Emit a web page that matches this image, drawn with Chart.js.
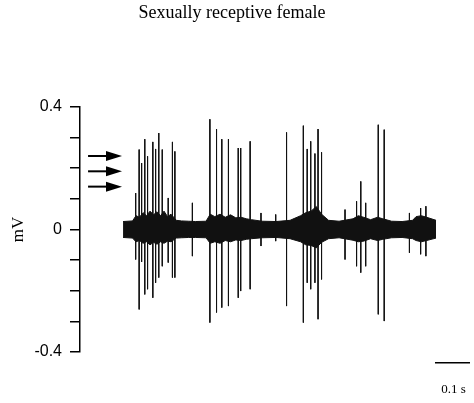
<!DOCTYPE html>
<html>
<head>
<meta charset="utf-8">
<script src="https://cdn.jsdelivr.net/npm/chart.js@4.4.0/dist/chart.umd.min.js"></script>
<style>
  html, body { margin: 0; padding: 0; background: #fff; }
  #wrap { width: 474px; height: 403px; }
</style>
</head>
<body>
<div id="wrap"><canvas id="trace"></canvas></div>
<script>
// Spike times (s) with their positive and negative peaks (mV)
const spikeT = [0.159, 0.169, 0.176, 0.185, 0.193, 0.208, 0.216, 0.225, 0.235, 0.252, 0.264, 0.271,
  0.321, 0.371, 0.390, 0.405, 0.424, 0.452, 0.459, 0.486, 0.517, 0.559,
  0.590, 0.638, 0.649, 0.659, 0.671, 0.680, 0.690, 0.757, 0.790, 0.802, 0.816, 0.852, 0.869,
  0.941, 0.973, 0.988];
const spikeTop = [0.119, 0.261, 0.217, 0.295, 0.239, 0.286, 0.263, 0.315, 0.261, 0.103, 0.286, 0.255,
  0.087, 0.360, 0.328, 0.295, 0.295, 0.266, 0.266, 0.288, 0.054, 0.049,
  0.317, 0.339, 0.263, 0.288, 0.248, 0.328, 0.252, 0.065, 0.092, 0.157, 0.087, 0.342, 0.326,
  0.054, 0.070, 0.076];
const spikeBot = [-0.098, -0.261, -0.106, -0.212, -0.195, -0.223, -0.174, -0.157, -0.120, -0.108, -0.157, -0.157,
  -0.087, -0.304, -0.271, -0.255, -0.250, -0.223, -0.201, -0.195, -0.054, -0.038,
  -0.250, -0.304, -0.174, -0.195, -0.174, -0.293, -0.163, -0.098, -0.120, -0.141, -0.120, -0.277, -0.299,
  -0.076, -0.081, -0.087];

// Background noise envelope (mV)
const noiseT = [0.123, 0.150, 0.160, 0.170, 0.180, 0.190, 0.200, 0.210, 0.220, 0.230, 0.240, 0.250, 0.260, 0.275, 0.290, 0.310, 0.330, 0.360,
  0.372, 0.385, 0.400, 0.415, 0.430, 0.445, 0.460, 0.475, 0.490, 0.520, 0.560, 0.600, 0.630, 0.645, 0.660, 0.675, 0.690, 0.710,
  0.740, 0.780, 0.795, 0.810, 0.830, 0.850, 0.865, 0.890, 0.920, 0.950, 0.960, 0.975, 0.990, 1.017];
const noiseUp = [0.026, 0.028, 0.045, 0.040, 0.055, 0.045, 0.060, 0.048, 0.058, 0.045, 0.060, 0.042, 0.050, 0.030, 0.028, 0.027, 0.026, 0.027,
  0.050, 0.042, 0.050, 0.040, 0.048, 0.038, 0.040, 0.035, 0.032, 0.027, 0.026, 0.030, 0.045, 0.055, 0.060, 0.075, 0.050, 0.030,
  0.027, 0.035, 0.045, 0.040, 0.032, 0.040, 0.035, 0.027, 0.026, 0.030, 0.042, 0.045, 0.040, 0.030];
const noiseLo = [-0.026, -0.028, -0.040, -0.036, -0.045, -0.040, -0.050, -0.042, -0.048, -0.040, -0.045, -0.038, -0.040, -0.028, -0.027, -0.026, -0.026, -0.027,
  -0.045, -0.040, -0.045, -0.036, -0.040, -0.034, -0.036, -0.032, -0.030, -0.027, -0.026, -0.030, -0.040, -0.050, -0.052, -0.060, -0.042, -0.030,
  -0.027, -0.035, -0.040, -0.038, -0.030, -0.036, -0.032, -0.027, -0.026, -0.030, -0.036, -0.040, -0.036, -0.028];

// Arrow levels (mV) and scale bar
const arrowY = [0.24, 0.19, 0.14];
const arrowX = [0.023, 0.120];
const scaleBarX = [1.014, 1.114];
const scaleBarY = -0.435;

const yTicks = [-0.4, -0.3, -0.2, -0.1, 0, 0.1, 0.2, 0.3, 0.4];
const yLabels = { "-0.4": "-0.4", "0": "0", "0.4": "0.4" };

const spikePts = [];
spikeT.forEach((t, i) => {
  spikePts.push({ x: t, y: spikeTop[i] }, { x: t, y: spikeBot[i] }, { x: t, y: NaN });
});

const extras = {
  id: "extras",
  afterDraw(chart) {
    const c = chart.ctx, xs = chart.scales.x, ys = chart.scales.y;
    c.save();
    c.fillStyle = "#000";
    c.strokeStyle = "#000";
    c.font = "18px 'Liberation Serif', serif";
    c.textAlign = "center";
    c.textBaseline = "middle";
    c.fillText("Sexually receptive female", 232, 13);

    c.save();
    c.translate(19, ys.getPixelForValue(0));
    c.rotate(-Math.PI / 2);
    c.font = "17px 'Liberation Serif', serif";
    c.fillText("mV", 0, 0);
    c.restore();

    // arrows
    arrowY.forEach(v => {
      const y = ys.getPixelForValue(v);
      const x0 = xs.getPixelForValue(arrowX[0]), x1 = xs.getPixelForValue(arrowX[1]);
      c.lineWidth = 2;
      c.beginPath(); c.moveTo(x0, y); c.lineTo(x1 - 12, y); c.stroke();
      c.beginPath(); c.moveTo(x1, y); c.lineTo(x1 - 16, y - 5); c.lineTo(x1 - 16, y + 5); c.closePath(); c.fill();
    });

    // scale bar
    const by = ys.getPixelForValue(scaleBarY);
    c.lineWidth = 1.5;
    c.beginPath();
    c.moveTo(xs.getPixelForValue(scaleBarX[0]), by);
    c.lineTo(xs.getPixelForValue(scaleBarX[1]), by);
    c.stroke();
    c.font = "13px 'Liberation Serif', serif";
    c.fillText("0.1 s", (xs.getPixelForValue(scaleBarX[0]) + xs.getPixelForValue(scaleBarX[1])) / 2 + 1, by + 27);
    c.restore();
  }
};

new Chart(document.getElementById("trace"), {
  type: "line",
  data: {
    datasets: [
      {
        data: noiseT.map((t, i) => ({ x: t, y: noiseUp[i] })),
        borderColor: "#111", backgroundColor: "#111", borderWidth: 1,
        pointRadius: 0, tension: 0, fill: false
      },
      {
        data: noiseT.map((t, i) => ({ x: t, y: noiseLo[i] })),
        borderColor: "#111", backgroundColor: "#111", borderWidth: 1,
        pointRadius: 0, tension: 0, fill: "-1"
      },
      {
        data: spikePts,
        borderColor: "#111", borderWidth: 1,
        pointRadius: 0, tension: 0, spanGaps: false, fill: false
      }
    ]
  },
  options: {
    responsive: true,
    maintainAspectRatio: false,
    animation: false,
    layout: { padding: { top: 107, bottom: 51, right: 4, left: 0 } },
    plugins: { legend: { display: false }, tooltip: { enabled: false } },
    scales: {
      x: { type: "linear", min: 0, max: 1.114, display: false },
      y: {
        min: -0.4, max: 0.4,
        afterFit(s) { s.width = 80; },
        afterBuildTicks(s) { s.ticks = yTicks.map(v => ({ value: v })); },
        border: { display: true, color: "#000", width: 1.5 },
        grid: { drawOnChartArea: false, drawTicks: true, tickLength: 10, color: "#000", lineWidth: 1.5 },
        ticks: {
          color: "#000", padding: 8,
          font: { family: "'Liberation Sans', Arial, sans-serif", size: 16 },
          callback: v => yLabels[String(Math.round(v * 10) / 10)] || ""
        }
      }
    }
  },
  plugins: [extras]
});
</script>
</body>
</html>
